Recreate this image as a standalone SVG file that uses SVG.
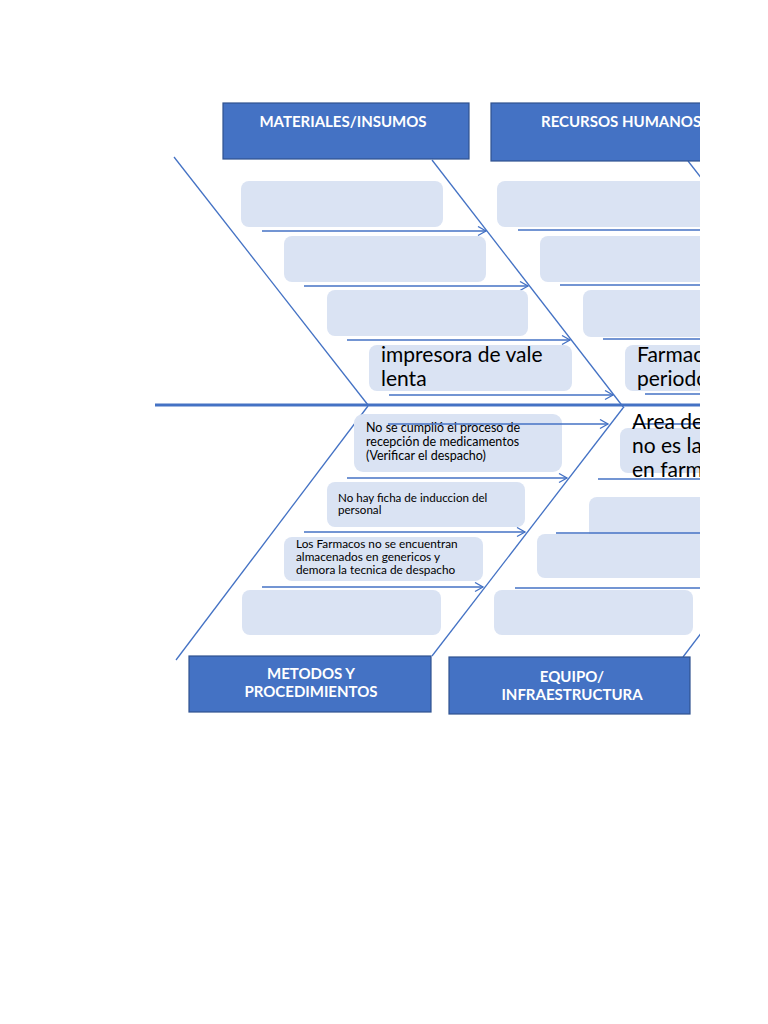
<svg xmlns="http://www.w3.org/2000/svg" width="768" height="1024" viewBox="0 0 768 1024">
<style>
.hdr{fill:#4472C4;stroke:#2F528F;stroke-width:1.2}
.hdrt{fill:#FFFFFF;font-family:Lato,"Liberation Sans",sans-serif;font-weight:bold;font-size:15px;text-anchor:middle}
.pale{fill:#DAE3F3}
.big{font-family:Lato,"Liberation Sans",sans-serif;font-size:21px;fill:#000000}
.sm{font-family:Lato,"Liberation Sans",sans-serif;font-size:12.5px;fill:#000000}
.ln{stroke:#4472C4;stroke-width:1.3;fill:none}
.arr{stroke:#4472C4;stroke-width:1.3;fill:none;marker-end:url(#ah)}
.spine{stroke:#4472C4;stroke-width:3;fill:none}
</style>
<defs>
<marker id="ah" markerWidth="12" markerHeight="12" refX="9" refY="5" orient="auto" markerUnits="userSpaceOnUse">
<path d="M1,0.5 L9,5 L1,9.5" fill="none" stroke="#4472C4" stroke-width="1.3"/>
</marker>
<clipPath id="page"><rect x="0" y="0" width="700" height="1024"/></clipPath>
</defs>
<rect x="0" y="0" width="768" height="1024" fill="#FFFFFF"/>
<g clip-path="url(#page)">

<g id="connectors">
<line class="spine" x1="155" y1="405" x2="700" y2="405"/>
<line class="ln" x1="174" y1="157" x2="368" y2="405"/>
<line class="ln" x1="176" y1="660" x2="368" y2="406"/>
<line class="ln" x1="432" y1="160" x2="624" y2="408"/>
<line class="ln" x1="432" y1="656" x2="623" y2="408"/>
<line class="ln" x1="688" y1="161" x2="720" y2="202"/>
<line class="ln" x1="683" y1="657" x2="715" y2="615"/>
<line class="arr" x1="262" y1="231" x2="486" y2="231"/>
<line class="arr" x1="304" y1="286" x2="528" y2="286"/>
<line class="arr" x1="347" y1="340" x2="570" y2="340"/>
<line class="arr" x1="389" y1="395" x2="613" y2="395"/>
<line class="ln" x1="518" y1="230" x2="700" y2="230"/>
<line class="ln" x1="560" y1="285" x2="700" y2="285"/>
<line class="ln" x1="603" y1="339" x2="700" y2="339"/>
<line class="ln" x1="645" y1="394" x2="700" y2="394"/>
<line class="arr" x1="347" y1="478" x2="567" y2="478"/>
<line class="arr" x1="304" y1="532" x2="525" y2="532"/>
<line class="arr" x1="262" y1="587" x2="483" y2="587"/>
<line class="ln" x1="633" y1="424" x2="700" y2="424"/>
<line class="ln" x1="598" y1="479" x2="700" y2="479"/>
<line class="ln" x1="515" y1="588" x2="700" y2="588"/>
</g>

<g id="materiales">
<rect class="hdr" x="223" y="103" width="246" height="56"/>
<text class="hdrt" x="343" y="127">MATERIALES/INSUMOS</text>
</g>
<g id="recursos">
<rect class="hdr" x="491" y="103" width="246" height="58"/>
<text class="hdrt" x="541" y="127" style="text-anchor:start">RECURSOS HUMANOS</text>
</g>
<g id="metodos">
<rect class="hdr" x="189" y="656" width="242" height="56"/>
<text class="hdrt" x="311" y="679">METODOS Y</text>
<text class="hdrt" x="311" y="697">PROCEDIMIENTOS</text>
</g>
<g id="equipo">
<rect class="hdr" x="449" y="657" width="241" height="57"/>
<text class="hdrt" x="572" y="682">EQUIPO/</text>
<text class="hdrt" x="572" y="700">INFRAESTRUCTURA</text>
</g>

<g id="mat1"><rect class="pale" x="241" y="181" width="202" height="46" rx="8"/></g>
<g id="mat2"><rect class="pale" x="284" y="236" width="202" height="46" rx="8"/></g>
<g id="mat3"><rect class="pale" x="327" y="290" width="201" height="46" rx="8"/></g>
<g id="mat4"><rect class="pale" x="369" y="345" width="203" height="46" rx="8"/>
<text class="big" x="381" y="362">impresora de vale</text>
<text class="big" x="381" y="386">lenta</text></g>

<g id="rh1"><rect class="pale" x="497" y="181" width="240" height="46" rx="8"/></g>
<g id="rh2"><rect class="pale" x="540" y="236" width="240" height="46" rx="8"/></g>
<g id="rh3"><rect class="pale" x="583" y="290" width="240" height="47" rx="8"/></g>
<g id="rh4"><rect class="pale" x="625" y="345" width="240" height="46" rx="8"/>
<text class="big" x="637" y="362">Farmac</text>
<text class="big" x="637" y="386">periodo</text></g>

<g id="met1"><rect class="pale" x="354" y="414" width="208" height="58" rx="9"/>
<text class="sm" x="366" y="432">No se cumplió el proceso de</text>
<text class="sm" x="366" y="446">recepción de medicamentos</text>
<text class="sm" x="366" y="460">(Verificar el despacho)</text></g>
<line class="arr" x1="388" y1="424" x2="608" y2="424"/>
<g id="met2"><rect class="pale" x="327" y="482" width="198" height="45" rx="8"/>
<text class="sm" x="338" y="502" style="font-size:11.6px">No hay ficha de induccion del</text>
<text class="sm" x="338" y="514" style="font-size:11.6px">personal</text></g>
<g id="met3"><rect class="pale" x="284" y="537" width="199" height="44" rx="8"/>
<text class="sm" x="296" y="548" style="font-size:11.8px">Los Farmacos no se encuentran</text>
<text class="sm" x="296" y="561" style="font-size:11.8px">almacenados en genericos y</text>
<text class="sm" x="296" y="574" style="font-size:11.8px">demora la tecnica de despacho</text></g>
<g id="met4"><rect class="pale" x="242" y="590" width="199" height="45" rx="8"/></g>

<g id="eq1"><rect class="pale" x="620" y="428" width="200" height="45" rx="8"/>
<text class="big" x="632" y="429">Area de</text>
<text class="big" x="632" y="453">no es la</text>
<text class="big" x="632" y="477">en farm</text></g>
<g id="eq2"><rect class="pale" x="589" y="497" width="200" height="45" rx="8"/></g>
<line class="ln" x1="556" y1="533" x2="700" y2="533"/>
<g id="eq3"><rect class="pale" x="537" y="534" width="200" height="44" rx="8"/></g>
<g id="eq4"><rect class="pale" x="494" y="590" width="199" height="45" rx="8"/></g>

</g>
</svg>
